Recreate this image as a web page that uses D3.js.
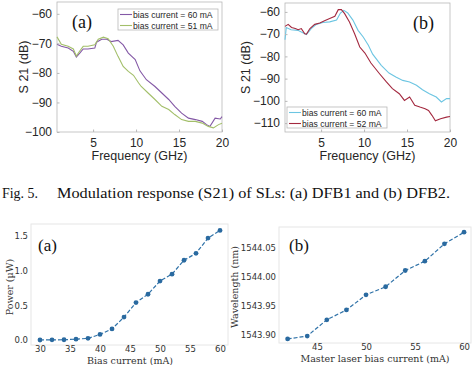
<!DOCTYPE html>
<html lang="en">
<head>
  <meta charset="utf-8">
  <title>Fig5-Fig6</title>
  <script src="https://cdn.jsdelivr.net/npm/d3@7/dist/d3.min.js"></script>
  <style>
    body { margin: 0; background: #fff; }
    .mat text { font-family: "Liberation Sans", Arial, sans-serif; fill: #262626; }
    .mpl text { font-family: "DejaVu Sans", sans-serif; fill: #333; }
    text.serif { font-family: "Liberation Serif", "Times New Roman", serif; fill: #111; }
    .mpl text.dserif { font-family: "DejaVu Serif", serif; fill: #333; }
  </style>
</head>
<body>
<script>
// Fig. 5 (a) DFB1, S21 in dB vs frequency in GHz
const a60 = [[0.8,-70.3],[1.3,-71],[2.1,-71.6],[2.7,-72.7],[3.05,-74.6],[3.45,-73.3],[3.85,-71.9],[4.4,-71.9],
  [5.2,-71.6],[5.4,-69.6],[6.0,-68.6],[6.6,-68.6],[7.1,-69.4],[7.9,-69],[8.5,-70.5],[9.1,-73.3],[9.9,-75.5],
  [10.45,-79.3],[11.2,-82.3],[12.2,-84.6],[13,-86.8],[13.8,-89],[14.5,-91.3],[15.3,-93.6],[16.1,-95.3],
  [16.9,-95.8],[17.7,-96.4],[18.2,-97.5],[18.6,-98.1],[19.2,-95.3],[19.8,-95.6],[20,-94.8]];
const a51 = [[0.8,-67.8],[1.3,-70.3],[2.1,-71],[2.7,-71.9],[3.05,-74.3],[3.45,-72.6],[3.85,-71],[4.4,-71],
  [5.2,-70.5],[5.6,-68.6],[6.2,-67.9],[6.75,-68.4],[7.35,-71],[7.9,-74.4],[8.5,-77.8],[9.1,-79.5],[9.7,-80.8],
  [10.3,-83.4],[10.6,-84.6],[11.4,-86.8],[12.2,-89],[13,-91.3],[13.8,-92.4],[14.5,-94.1],[15.3,-95.8],
  [16.1,-96.4],[16.9,-96.4],[17.7,-97],[18.4,-98.1],[19,-98.6],[19.6,-97.5],[20,-97]];
// Fig. 5 (b) DFB2
const b60 = [[0.8,-72.5],[0.95,-67],[1.5,-68],[2.3,-68.3],[3.1,-69.8],[3.3,-70.2],[3.85,-67.5],[4.45,-65.6],
  [5.2,-64.8],[6,-64.5],[6.8,-63.7],[7.25,-60.5],[7.65,-59.3],[8.1,-60.5],[8.7,-63.7],[9.3,-68.3],[9.9,-71.3],
  [10.5,-75],[11,-79],[12,-84],[12.9,-87.5],[13.7,-89.3],[14.5,-90.8],[15.3,-91.5],[16.1,-93],[16.8,-95],
  [17.6,-96.8],[18.4,-98.3],[19,-100.5],[19.6,-99],[20,-99]];
const b52 = [[0.8,-66.5],[1.17,-65.6],[1.56,-67],[2,-67.5],[2.33,-68],[2.7,-67.5],[3.1,-69.8],[3.3,-70],
  [3.7,-67.5],[4.26,-65.6],[4.85,-65],[5.4,-64],[6,-63],[6.6,-62],[7,-59],[7.36,-59],[7.74,-60.8],[8.3,-64.5],
  [8.9,-69.8],[9.5,-75.8],[10.1,-78.5],[10.8,-83],[11.8,-87.8],[12.6,-91.5],[13.3,-94.5],[14.1,-96.8],
  [14.7,-99.8],[15.3,-98.3],[15.9,-102],[16.5,-102.8],[17.1,-103.5],[17.5,-104.3],[17.9,-106.5],[18.3,-109],
  [18.9,-108],[19.6,-107.3],[20,-107]];
const freqTicks = [5, 10, 15, 20];
const sTicksA = [-100, -90, -80, -70, -60];
const sTicksB = [-110, -100, -90, -80, -70, -60];

// Fig. 6 (a) power vs bias current
const biasCurrent = [30,32,34,36,38,40,42,44,46,48,50,52,54,56,58,60];
const power = [0,0.002,0.004,0.012,0.024,0.08,0.16,0.33,0.54,0.66,0.85,0.95,1.15,1.25,1.47,1.58];
const powerTicks = [0, 0.5, 1.0, 1.5];
const biasTicks = [30,35,40,45,50,55,60];
// Fig. 6 (b) wavelength vs master laser bias current
const masterCurrent = [42,44,46,48,50,52,54,56,58,60];
const wavelength = [1543.893,1543.898,1543.926,1543.943,1543.969,1543.983,1544.011,1544.027,1544.057,1544.077];
const wlTicks = [1543.90, 1543.95, 1544.00, 1544.05];
const masterTicks = [45,50,55,60];

const svg = d3.select("body").append("svg").attr("width", 474).attr("height", 365);

// matlab style panel
function matPanel(o) {
  const g = svg.append("g").attr("class", "mat");
  const x = d3.scaleLinear().domain([0.8, 20]).range([o.x0, o.x1]);
  const y = d3.scaleLinear().domain(o.yDomain).range([o.y1, o.y0]);
  g.append("rect").attr("x", o.x0).attr("y", o.y0).attr("width", o.x1 - o.x0).attr("height", o.y1 - o.y0)
    .attr("fill", "#fff").attr("stroke", "#b8b8b8").attr("stroke-width", 0.8);
  const line = d3.line().x(d => x(d[0])).y(d => y(d[1]));
  o.series.forEach(s => {
    g.append("path").datum(s.data).attr("d", line).attr("fill", "none")
      .attr("stroke", s.color).attr("stroke-width", 1.1);
  });
  const xa = g.append("g").attr("transform", `translate(0,${o.y1})`)
    .call(d3.axisBottom(x).tickValues(freqTicks).tickSize(-2.5).tickPadding(6));
  const ya = g.append("g").attr("transform", `translate(${o.x0},0)`)
    .call(d3.axisLeft(y).tickValues(o.yTicks).tickSize(-2.5).tickPadding(5).tickFormat(d3.format("d")));
  [xa, ya].forEach(a => {
    a.select(".domain").remove();
    a.selectAll("line").attr("stroke", "#b8b8b8");
    a.selectAll("text").style("font-size", "12px").attr("fill", "#262626");
  });
  g.append("text").attr("x", (o.x0 + o.x1) / 2).attr("y", o.y1 + 28).attr("text-anchor", "middle")
    .style("font-size", "12.5px").text("Frequency (GHz)");
  g.append("text").attr("transform", `translate(${o.yl},${(o.y0 + o.y1) / 2}) rotate(-90)`)
    .attr("text-anchor", "middle").style("font-size", "12.5px").text("S 21 (dB)");
  // legend
  const lg = g.append("g");
  lg.append("rect").attr("x", o.lx).attr("y", o.ly).attr("width", 100).attr("height", 21)
    .attr("fill", "#fff").attr("stroke", "#b8b8b8").attr("stroke-width", 0.8);
  o.series.forEach((s, i) => {
    const yy = o.ly + 5.5 + i * 11;
    lg.append("line").attr("x1", o.lx + 2).attr("x2", o.lx + 14).attr("y1", yy).attr("y2", yy)
      .attr("stroke", s.color).attr("stroke-width", 1.1);
    lg.append("text").attr("x", o.lx + 15).attr("y", yy + 3).style("font-size", "8.6px").text(s.label);
  });
  svg.append("text").attr("class", "serif").attr("x", o.tx).attr("y", o.ty)
    .style("font-size", "18px").text(o.tag);
}

matPanel({x0: 57, x1: 222, y0: 2, y1: 132, yDomain: [-100, -56], yTicks: sTicksA, yl: 28,
  lx: 118, ly: 9, tx: 72, ty: 28, tag: "(a)",
  series: [{data: a60, color: "#8459a6", label: "bias current = 60 mA"},
           {data: a51, color: "#a3bf6a", label: "bias current = 51 mA"}]});
matPanel({x0: 285, x1: 450, y0: 3, y1: 132, yDomain: [-114, -56], yTicks: sTicksB, yl: 250,
  lx: 287, ly: 107, tx: 413, ty: 29, tag: "(b)",
  series: [{data: b60, color: "#6cc5e2", label: "bias current = 60 mA"},
           {data: b52, color: "#a3293f", label: "bias current = 52 mA"}]});

svg.append("text").attr("class", "serif").attr("x", 2).attr("y", 198).style("font-size", "15.5px")
  .attr("textLength", 36).attr("lengthAdjust", "spacingAndGlyphs").text("Fig. 5.");
svg.append("text").attr("class", "serif").attr("x", 57).attr("y", 198).style("font-size", "15.5px")
  .attr("textLength", 393).attr("lengthAdjust", "spacingAndGlyphs")
  .text("Modulation response (S21) of SLs: (a) DFB1 and (b) DFB2.");

// matplotlib style panel
function mplPanel(o) {
  const g = svg.append("g").attr("class", "mpl");
  const x = d3.scaleLinear().domain(o.xDomain).range([o.x0, o.x1]);
  const y = d3.scaleLinear().domain(o.yDomain).range([o.y1, o.y0]);
  g.append("rect").attr("x", o.x0).attr("y", o.y0).attr("width", o.x1 - o.x0).attr("height", o.y1 - o.y0)
    .attr("fill", "#fff").attr("stroke", "#e6e6e6").attr("stroke-width", 1);
  const pts = o.xs.map((v, i) => [v, o.ys[i]]);
  g.append("path").datum(pts).attr("d", d3.line().x(d => x(d[0])).y(d => y(d[1])))
    .attr("fill", "none").attr("stroke", "#2f72a8").attr("stroke-width", 1.2).attr("stroke-dasharray", "4,2");
  g.selectAll("circle").data(pts).join("circle").attr("cx", d => x(d[0])).attr("cy", d => y(d[1]))
    .attr("r", 2.4).attr("fill", "#2a6aa0");
  const xa = g.append("g").attr("transform", `translate(0,${o.y1})`)
    .call(d3.axisBottom(x).tickValues(o.xTicks).tickSize(0).tickPadding(0.5));
  const ya = g.append("g").attr("transform", `translate(${o.x0},0)`)
    .call(d3.axisLeft(y).tickValues(o.yTicks).tickSize(0).tickPadding(3).tickFormat(d3.format(o.yFmt)));
  [xa, ya].forEach(a => {
    a.select(".domain").remove();
    a.selectAll("text").style("font-size", "8.5px").attr("fill", "#333").attr("font-family", "DejaVu Sans");
  });
  g.append("text").attr("class", "dserif").attr("x", o.xlx).attr("y", o.y1 + 18.5).attr("text-anchor", "middle")
    .style("font-size", "9.5px").text(o.xLabel);
  g.append("text").attr("class", "dserif").attr("transform", `translate(${o.yl},${o.yly}) rotate(-90)`)
    .attr("text-anchor", "middle").style("font-size", "9.5px").text(o.yLabel);
  svg.append("text").attr("class", "serif").attr("x", o.tx).attr("y", 251)
    .style("font-size", "17px").text(o.tag);
}

mplPanel({x0: 31, x1: 228, y0: 224, y1: 345, xDomain: [28.5, 61.33], yDomain: [-0.072, 1.673],
  xs: biasCurrent, ys: power, xTicks: biasTicks, yTicks: powerTicks, yFmt: ".1f",
  xLabel: "Bias current (mA)", xlx: 130, yLabel: "Power (\u00b5W)", yl: 13, yly: 287, tx: 38, tag: "(a)"});
mplPanel({x0: 279, x1: 471, y0: 227, y1: 343, xDomain: [41.12, 60.71], yDomain: [1543.886, 1544.086],
  xs: masterCurrent, ys: wavelength, xTicks: masterTicks, yTicks: wlTicks, yFmt: ".2f",
  xLabel: "Master laser bias current (mA)", xlx: 375, yLabel: "Wavelength (nm)", yl: 238, yly: 287, tx: 289, tag: "(b)"});
</script>
</body>
</html>
